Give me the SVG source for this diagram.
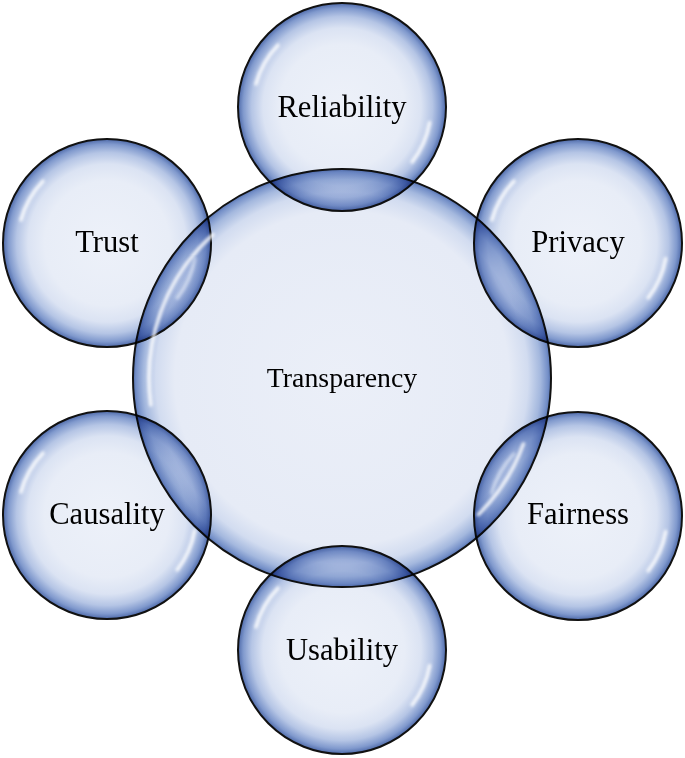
<svg xmlns="http://www.w3.org/2000/svg" width="685" height="758" viewBox="0 0 685 758">
<defs>
<radialGradient id="gSat" cx="50%" cy="50%" r="50%">
<stop offset="0" stop-color="#edf1f9"/>
<stop offset="0.6" stop-color="#e8edf7"/>
<stop offset="0.76" stop-color="#dbe3f3"/>
<stop offset="0.87" stop-color="#b5c5e5"/>
<stop offset="0.95" stop-color="#8099cd"/>
<stop offset="1" stop-color="#4d69a9"/>
</radialGradient>
<radialGradient id="gCen" cx="50%" cy="50%" r="50%">
<stop offset="0" stop-color="#ebeff8"/>
<stop offset="0.8" stop-color="#e6ebf6"/>
<stop offset="0.89" stop-color="#d2dcf0"/>
<stop offset="0.95" stop-color="#a4b8de"/>
<stop offset="0.985" stop-color="#7590c8"/>
<stop offset="1" stop-color="#5572b0"/>
</radialGradient>
<filter id="blur" x="-50%" y="-50%" width="200%" height="200%">
<feGaussianBlur stdDeviation="1.4"/>
</filter>
</defs>
<style>
.sat{fill:url(#gSat);stroke:#111;stroke-width:2;mix-blend-mode:multiply}
.cen{fill:url(#gCen);stroke:#111;stroke-width:2;mix-blend-mode:multiply}
.hl{fill:none;stroke:#ffffff;stroke-width:3.6;stroke-linecap:round;opacity:0.85;filter:url(#blur)}
.lbl{font-family:"Liberation Serif","Times New Roman",serif;font-size:30.6px;fill:#000;text-anchor:middle}
.clbl{font-family:"Liberation Serif","Times New Roman",serif;font-size:27.8px;fill:#000;text-anchor:middle}
</style>
<rect width="685" height="758" fill="#ffffff"/>
<g id="connectors"/>
<g id="reliability" transform="translate(342,107)">
<circle class="sat" r="104"/>
<path class="hl" d="M -86.0 -23.0 A 89 89 0 0 1 -64.0 -61.8"/>
<path class="hl" d="M 87.6 15.5 A 89 89 0 0 1 70.1 54.8"/>
<text class="lbl" x="0" y="10">Reliability</text>
</g>
<g id="trust" transform="translate(107,243)">
<circle class="sat" r="104"/>
<path class="hl" d="M -86.0 -23.0 A 89 89 0 0 1 -64.0 -61.8"/>
<path class="hl" d="M 87.6 15.5 A 89 89 0 0 1 70.1 54.8"/>
<text class="lbl" x="0" y="9">Trust</text>
</g>
<g id="privacy" transform="translate(578,243)">
<circle class="sat" r="104"/>
<path class="hl" d="M -86.0 -23.0 A 89 89 0 0 1 -64.0 -61.8"/>
<path class="hl" d="M 87.6 15.5 A 89 89 0 0 1 70.1 54.8"/>
<text class="lbl" x="0" y="9">Privacy</text>
</g>
<g id="causality" transform="translate(107,515)">
<circle class="sat" r="104"/>
<path class="hl" d="M -86.0 -23.0 A 89 89 0 0 1 -64.0 -61.8"/>
<path class="hl" d="M 87.6 15.5 A 89 89 0 0 1 70.1 54.8"/>
<text class="lbl" x="0" y="9">Causality</text>
</g>
<g id="fairness" transform="translate(578,516)">
<circle class="sat" r="104"/>
<path class="hl" d="M -86.0 -23.0 A 89 89 0 0 1 -64.0 -61.8"/>
<path class="hl" d="M 87.6 15.5 A 89 89 0 0 1 70.1 54.8"/>
<text class="lbl" x="0" y="8">Fairness</text>
</g>
<g id="usability" transform="translate(342,650)">
<circle class="sat" r="104"/>
<path class="hl" d="M -86.0 -23.0 A 89 89 0 0 1 -64.0 -61.8"/>
<path class="hl" d="M 87.6 15.5 A 89 89 0 0 1 70.1 54.8"/>
<text class="lbl" x="0" y="10">Usability</text>
</g>
<g id="transparency" transform="translate(342,378)">
<circle class="cen" r="209"/>
<path class="hl" d="M -191.1 26.9 A 193 193 0 0 1 -129.1 -143.4"/>
<path class="hl" d="M 181.4 66.0 A 193 193 0 0 1 136.5 136.5"/>
<text class="clbl" x="0" y="9">Transparency</text>
</g>
</svg>
